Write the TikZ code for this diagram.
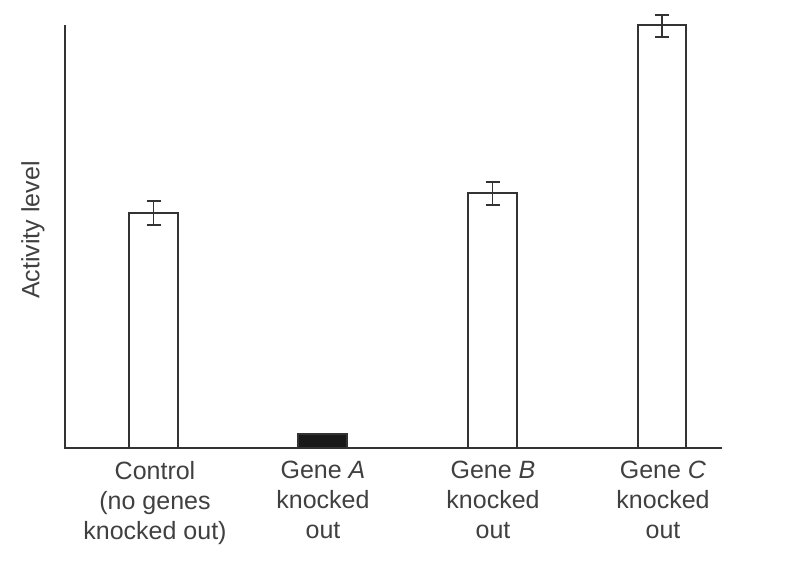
\documentclass[tikz,border=0pt]{standalone}
\usepackage{fontspec}
\setmainfont{Liberation Sans}
\usetikzlibrary{positioning}
\tikzset{
	bar/.style={draw=black!80, line width=1.2pt, fill=white},
	errbar/.style={draw=black!80, line width=1.2pt},
	grouplabel/.style={align=center, font=\fontsize{25}{30}\selectfont, color=black!75, anchor=north, inner sep=0pt}
}
\begin{document}
\begin{tikzpicture}[x=1pt,y=-1pt]
	\useasboundingbox (0,0) rectangle (786,566);
	% axes
	\coordinate (origin) at (65,448);
	\coordinate (ytop) at (65,25);
	\coordinate (xend) at (722,448);
	\draw[black!80, line width=1.2pt] (ytop) -- (origin) -- (xend);
	\node[rotate=90, font=\fontsize{25}{30}\selectfont, color=black!75] (ylabel) at (33,230) {Activity level};
	% bars
	\draw[bar] (129,448) rectangle (178,213);
	\draw[bar, fill=black!90] (298,448) rectangle (347,434);
	\draw[bar] (468,448) rectangle (517,193);
	\draw[bar] (638,448) rectangle (686,25);
	% error bars
	\foreach \xc/\lo/\hi in {153.5/201/225, 492.5/182/205, 662/15/37} {
		\draw[errbar] (\xc,\lo) -- (\xc,\hi);
		\draw[errbar] (\xc-7,\lo) -- (\xc+7,\lo);
		\draw[errbar] (\xc-7,\hi) -- (\xc+7,\hi);
	}
	% group labels
	\node[grouplabel] (ctrl) at (155,461) {Control\\(no genes\\knocked out)};
	\node[grouplabel] (genea) at (323,461) {Gene \textit{A}\\knocked\\out};
	\node[grouplabel] (geneb) at (493,461) {Gene \textit{B}\\knocked\\out};
	\node[grouplabel] (genec) at (663,461) {Gene \textit{C}\\knocked\\out};
\end{tikzpicture}
\end{document}
